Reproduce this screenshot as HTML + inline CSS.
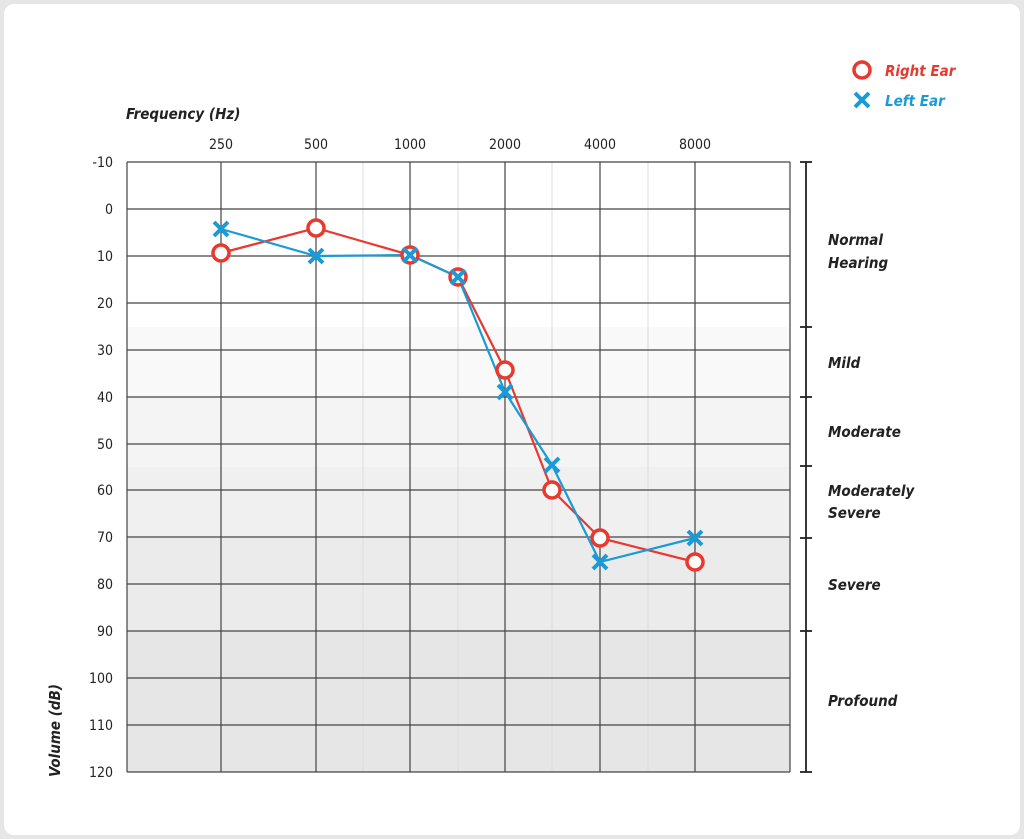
<!DOCTYPE html>
<html><head><style>
html,body{margin:0;padding:0;background:#e6e6e6;}
svg{display:block;}
text{font-family:"DejaVu Sans Condensed","Liberation Sans",sans-serif;}
</style></head><body>
<svg width="1024" height="839" viewBox="0 0 1024 839" xmlns="http://www.w3.org/2000/svg">
<rect x="0" y="0" width="1024" height="839" fill="#e6e6e6"/>
<rect x="4" y="4" width="1016" height="831" rx="10" fill="#fff"/>
<!-- bands -->
<rect x="127" y="162" width="663" height="165" fill="#fff"/>
<rect x="127" y="327" width="663" height="70" fill="#f9f9f9"/>
<rect x="127" y="397" width="663" height="70" fill="#f4f4f4"/>
<rect x="127" y="467" width="663" height="71" fill="#f0f0f0"/>
<rect x="127" y="538" width="663" height="94" fill="#ebebeb"/>
<rect x="127" y="632" width="663" height="140" fill="#e6e6e6"/>
<!-- minor verticals -->
<g stroke="#dcdcdc" stroke-width="1">
<line x1="363" y1="162" x2="363" y2="772"/><line x1="458" y1="162" x2="458" y2="772"/>
<line x1="552" y1="162" x2="552" y2="772"/><line x1="648" y1="162" x2="648" y2="772"/>
</g>
<g stroke="#444" stroke-width="1.2">
<line x1="127" y1="162" x2="790" y2="162"/><line x1="127" y1="209" x2="790" y2="209"/>
<line x1="127" y1="256" x2="790" y2="256"/><line x1="127" y1="303" x2="790" y2="303"/>
<line x1="127" y1="350" x2="790" y2="350"/><line x1="127" y1="397" x2="790" y2="397"/>
<line x1="127" y1="444" x2="790" y2="444"/><line x1="127" y1="490" x2="790" y2="490"/>
<line x1="127" y1="537" x2="790" y2="537"/><line x1="127" y1="584" x2="790" y2="584"/>
<line x1="127" y1="631" x2="790" y2="631"/><line x1="127" y1="678" x2="790" y2="678"/>
<line x1="127" y1="725" x2="790" y2="725"/><line x1="127" y1="772" x2="790" y2="772"/>
<line x1="127" y1="162" x2="127" y2="772"/><line x1="790" y1="162" x2="790" y2="772"/>
<line x1="221" y1="162" x2="221" y2="772"/><line x1="316" y1="162" x2="316" y2="772"/>
<line x1="410" y1="162" x2="410" y2="772"/><line x1="505" y1="162" x2="505" y2="772"/>
<line x1="600" y1="162" x2="600" y2="772"/><line x1="695" y1="162" x2="695" y2="772"/>
</g>
<!-- right scale -->
<g stroke="#222" stroke-width="1.8">
<line x1="806" y1="162" x2="806" y2="772"/>
<line x1="800" y1="162" x2="812" y2="162"/><line x1="800" y1="327" x2="812" y2="327"/>
<line x1="800" y1="397" x2="812" y2="397"/><line x1="800" y1="466" x2="812" y2="466"/>
<line x1="800" y1="538" x2="812" y2="538"/><line x1="800" y1="631" x2="812" y2="631"/>
<line x1="800" y1="772" x2="812" y2="772"/>
</g>
<g font-size="15" font-style="italic" font-weight="bold" fill="#222">
<text x="828" y="245">Normal</text><text x="828" y="268">Hearing</text>
<text x="828" y="368">Mild</text><text x="828" y="437">Moderate</text>
<text x="828" y="496">Moderately</text><text x="828" y="518">Severe</text>
<text x="828" y="590">Severe</text><text x="828" y="706">Profound</text>
<text x="126" y="119">Frequency (Hz)</text>
<text transform="translate(60,777) rotate(-90)">Volume (dB)</text>
</g>
<g font-size="14" fill="#222" text-anchor="middle">
<text x="221" y="149">250</text><text x="316" y="149">500</text><text x="410" y="149">1000</text>
<text x="505" y="149">2000</text><text x="600" y="149">4000</text><text x="695" y="149">8000</text>
</g>
<g font-size="14" fill="#222" text-anchor="end">
<text x="113" y="167">-10</text><text x="113" y="214">0</text><text x="113" y="261">10</text>
<text x="113" y="308">20</text><text x="113" y="355">30</text><text x="113" y="402">40</text>
<text x="113" y="449">50</text><text x="113" y="495">60</text><text x="113" y="542">70</text>
<text x="113" y="589">80</text><text x="113" y="636">90</text><text x="113" y="683">100</text>
<text x="113" y="730">110</text><text x="113" y="777">120</text>
</g>
<!-- series -->
<polyline points="221,253 316,228 410,255 458,277 505,370 552,490 600,538 695,562" fill="none" stroke="#e8392f" stroke-width="2.2"/>
<polyline points="221,229 316,256 410,255 458,277 505,392 552,465 600,562 695,538" fill="none" stroke="#1a9ad6" stroke-width="2.2"/>
<g fill="#fff" stroke="#e8392f" stroke-width="3.5">
<circle cx="221" cy="253" r="8"/><circle cx="316" cy="228" r="8"/><circle cx="410" cy="255" r="8"/>
<circle cx="458" cy="277" r="8"/><circle cx="505" cy="370" r="8"/><circle cx="552" cy="490" r="8"/>
<circle cx="600" cy="538" r="8"/><circle cx="695" cy="562" r="8"/>
<circle cx="862" cy="70" r="8"/>
</g>
<g stroke="#1a9ad6" stroke-width="4">
<path d="M214,222l14,14M228,222l-14,14"/><path d="M309,249l14,14M323,249l-14,14"/>
<path d="M403,248l14,14M417,248l-14,14"/><path d="M451,270l14,14M465,270l-14,14"/>
<path d="M498,385l14,14M512,385l-14,14"/><path d="M545,458l14,14M559,458l-14,14"/>
<path d="M593,555l14,14M607,555l-14,14"/><path d="M688,531l14,14M702,531l-14,14"/>
<path d="M855,93l14,14M869,93l-14,14"/>
</g>
<g font-size="15" font-style="italic" font-weight="bold">
<text x="885" y="76" fill="#e8392f">Right Ear</text>
<text x="885" y="106" fill="#1a9ad6">Left Ear</text>
</g>
</svg>
</body></html>
